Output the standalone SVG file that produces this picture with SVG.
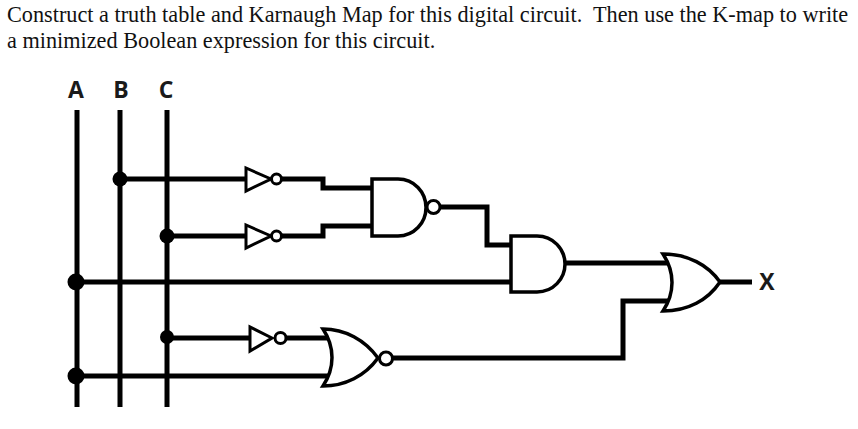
<svg xmlns="http://www.w3.org/2000/svg" width="858" height="429" viewBox="0 0 858 429">
<style>
.t{font-family:"Liberation Serif","Times New Roman",serif;font-size:22.25px;fill:#111}
.l{font-family:"Open Sans","Liberation Sans",sans-serif;font-size:23px;font-weight:700;fill:#1a1a1a;text-anchor:middle}
.w{fill:none;stroke:#000;stroke-width:5}
.g{fill:#fff;stroke:#000;stroke-width:3.5;stroke-linejoin:miter}
.n{fill:#fff;stroke:#000;stroke-width:3}
.d{fill:#000}
</style>
<rect width="858" height="429" fill="#fff"/>
<text class="t" x="7" y="22" xml:space="preserve">Construct a truth table and Karnaugh Map for this digital circuit.  Then use the K-map to write</text>
<text class="t" x="7" y="48">a minimized Boolean expression for this circuit.</text>
<text class="l" x="76" y="98">A</text>
<text class="l" x="121" y="98">B</text>
<text class="l" x="166" y="98">C</text>
<g id="connectors">
<path class="w" d="M77 110V407M120 110V407M167 110V407"/>
<path class="w" d="M120 179H247M282 179H323V188H373"/>
<path class="w" d="M167 236H247M282 236H323V226H373"/>
<path class="w" d="M77 282H512"/>
<path class="w" d="M167 338H252M286 338H330"/>
<path class="w" d="M77 376H330"/>
<path class="w" d="M439 207H487V245H512"/>
<path class="w" d="M566 263H672"/>
<path class="w" d="M392 358H623V301H674"/>
<path class="w" d="M720 282H752"/>
<circle class="d" cx="120" cy="179" r="7.5"/>
<circle class="d" cx="167" cy="236" r="7.5"/>
<circle class="d" cx="76" cy="282" r="8.5"/>
<circle class="d" cx="167" cy="337" r="7"/>
<circle class="d" cx="76" cy="376" r="8.5"/>
</g>
<g id="not1"><path class="n" d="M246 168V191L271 179Z"/><circle class="n" cx="276.500" cy="179" r="5"/></g>
<g id="not2"><path class="n" d="M246 225V248L271 236Z"/><circle class="n" cx="276.500" cy="236" r="5"/></g>
<g id="not3"><path class="n" d="M250 327V351L272 338Z"/><circle class="n" cx="280.500" cy="338" r="5.500"/></g>
<g id="nand1"><path class="g" d="M372 179H398C414 179 426 192 426 207.500C426 223 414 236 398 236H372Z"/><circle class="n" cx="433.500" cy="207" r="6.500"/></g>
<g id="and1"><path class="g" d="M511 236H537C553 236 565 249 565 264C565 279 553 292 537 292H511Z"/></g>
<g id="nor1"><path class="g" d="M323 329C345 329 365 340 378 358C365 376 345 386 323 386C335 368 335 347 323 329Z"/><circle class="n" cx="386" cy="358.500" r="6.500"/></g>
<g id="or1"><path class="g" d="M663 254C688 254 708 265 720 282C708 300 688 311 663 311C675 293 675 272 663 254Z"/></g>
<text class="l" x="767" y="290">X</text>
</svg>
